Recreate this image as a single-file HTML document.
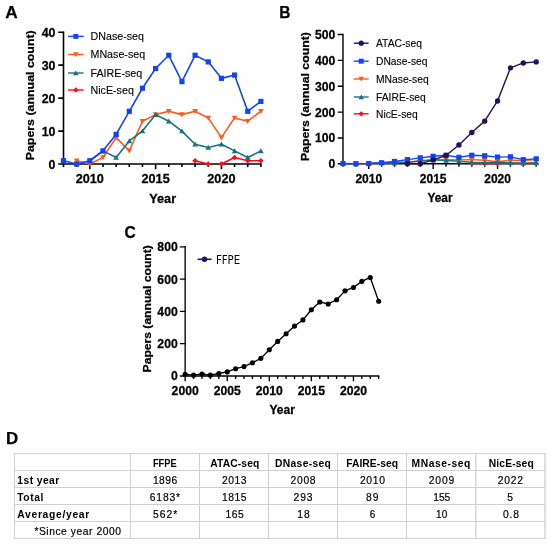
<!DOCTYPE html>
<html><head><meta charset="utf-8"><title>Figure</title>
<style>html,body{margin:0;padding:0;background:#fff}svg{display:block;font-family:"Liberation Sans",sans-serif}</style>
</head><body>
<svg width="550" height="544" viewBox="0 0 550 544">
<rect width="550" height="544" fill="#fff"/>
<path d="M63.5 31.41V164.85" stroke="#000" stroke-width="1.6" fill="none"/>
<path d="M62.7 164.05H261.7" stroke="#000" stroke-width="1.6" fill="none"/>
<path d="M89.82 164.05v5.3M155.62 164.05v5.3M221.42 164.05v5.3M63.50 164.05v3M76.66 164.05v3M102.98 164.05v3M116.14 164.05v3M129.30 164.05v3M142.46 164.05v3M168.78 164.05v3M181.94 164.05v3M195.10 164.05v3M208.26 164.05v3M234.58 164.05v3M247.74 164.05v3M260.90 164.05v3M63.5 164.05h-5.3M63.5 131.09h-5.3M63.5 98.13h-5.3M63.5 65.17h-5.3M63.5 32.21h-5.3" stroke="#000" stroke-width="1.6" fill="none"/>
<text font-size="12.4" font-weight="bold" stroke="#000" stroke-width="0.25" text-anchor="end" transform="translate(55.5 168.6) scale(1 1.04)">0</text>
<text font-size="12.4" font-weight="bold" stroke="#000" stroke-width="0.25" text-anchor="end" transform="translate(55.5 135.64) scale(1 1.04)">10</text>
<text font-size="12.4" font-weight="bold" stroke="#000" stroke-width="0.25" text-anchor="end" transform="translate(55.5 102.68) scale(1 1.04)">20</text>
<text font-size="12.4" font-weight="bold" stroke="#000" stroke-width="0.25" text-anchor="end" transform="translate(55.5 69.72) scale(1 1.04)">30</text>
<text font-size="12.4" font-weight="bold" stroke="#000" stroke-width="0.25" text-anchor="end" transform="translate(55.5 36.76) scale(1 1.04)">40</text>
<text font-size="12.7" font-weight="bold" stroke="#000" stroke-width="0.25" text-anchor="middle" transform="translate(89.82 183.4) scale(1 1.04)">2010</text>
<text font-size="12.7" font-weight="bold" stroke="#000" stroke-width="0.25" text-anchor="middle" transform="translate(155.62 183.4) scale(1 1.04)">2015</text>
<text font-size="12.7" font-weight="bold" stroke="#000" stroke-width="0.25" text-anchor="middle" transform="translate(221.42 183.4) scale(1 1.04)">2020</text>
<text font-size="12.7" font-weight="bold" stroke="#000" stroke-width="0.25" text-anchor="middle" transform="translate(162.7 202.7) scale(1 1.04)">Year</text>
<text x="34.3" y="95.3" font-size="11.5" font-weight="bold" stroke="#000" stroke-width="0.25" text-anchor="middle" textLength="130" lengthAdjust="spacingAndGlyphs" transform="rotate(-90 34.3 95.3)">Papers (annual count)</text>
<path d="M195.10 160.75L208.26 164.05" fill="none" stroke="#ff0a1e" stroke-width="1.6" stroke-linejoin="round"/>
<path d="M192.35 160.75L195.10 158.00L197.85 160.75L195.10 163.50Z" fill="#ff0a1e"/>
<path d="M205.51 164.05L208.26 161.30L211.01 164.05L208.26 166.80Z" fill="#ff0a1e"/>
<path d="M221.42 164.05L234.58 157.46L247.74 160.75L260.90 160.75" fill="none" stroke="#ff0a1e" stroke-width="1.6" stroke-linejoin="round"/>
<path d="M218.67 164.05L221.42 161.30L224.17 164.05L221.42 166.80Z" fill="#ff0a1e"/>
<path d="M231.83 157.46L234.58 154.71L237.33 157.46L234.58 160.21Z" fill="#ff0a1e"/>
<path d="M244.99 160.75L247.74 158.00L250.49 160.75L247.74 163.50Z" fill="#ff0a1e"/>
<path d="M258.15 160.75L260.90 158.00L263.65 160.75L260.90 163.50Z" fill="#ff0a1e"/>
<path d="M76.66 160.75L89.82 164.05L102.98 157.46L116.14 137.68L129.30 150.87L142.46 121.20L155.62 114.61L168.78 111.31L181.94 114.61L195.10 111.31L208.26 117.91L221.42 137.68L234.58 117.91L247.74 121.20L260.90 111.31" fill="none" stroke="#ff5a1a" stroke-width="1.6" stroke-linejoin="round"/>
<path d="M73.81 158.47H79.51L76.66 163.46Z" fill="#ff5a1a"/>
<path d="M86.97 161.77H92.67L89.82 166.76Z" fill="#ff5a1a"/>
<path d="M100.13 155.18H105.83L102.98 160.17Z" fill="#ff5a1a"/>
<path d="M113.29 135.40H118.99L116.14 140.39Z" fill="#ff5a1a"/>
<path d="M126.45 148.59H132.15L129.30 153.57Z" fill="#ff5a1a"/>
<path d="M139.61 118.92H145.31L142.46 123.91Z" fill="#ff5a1a"/>
<path d="M152.77 112.33H158.47L155.62 117.32Z" fill="#ff5a1a"/>
<path d="M165.93 109.03H171.63L168.78 114.02Z" fill="#ff5a1a"/>
<path d="M179.09 112.33H184.79L181.94 117.32Z" fill="#ff5a1a"/>
<path d="M192.25 109.03H197.95L195.10 114.02Z" fill="#ff5a1a"/>
<path d="M205.41 115.63H211.11L208.26 120.61Z" fill="#ff5a1a"/>
<path d="M218.57 135.40H224.27L221.42 140.39Z" fill="#ff5a1a"/>
<path d="M231.73 115.63H237.43L234.58 120.61Z" fill="#ff5a1a"/>
<path d="M244.89 118.92H250.59L247.74 123.91Z" fill="#ff5a1a"/>
<path d="M258.05 109.03H263.75L260.90 114.02Z" fill="#ff5a1a"/>
<path d="M89.82 160.75L102.98 150.87L116.14 157.46L129.30 140.98L142.46 131.09L155.62 114.61L168.78 121.20L181.94 131.09L195.10 144.27L208.26 147.57L221.42 144.27L234.58 150.87L247.74 157.46L260.90 150.87" fill="none" stroke="#167280" stroke-width="1.6" stroke-linejoin="round"/>
<path d="M86.97 163.03H92.67L89.82 158.05Z" fill="#167280"/>
<path d="M100.13 153.15H105.83L102.98 148.16Z" fill="#167280"/>
<path d="M113.29 159.74H118.99L116.14 154.75Z" fill="#167280"/>
<path d="M126.45 143.26H132.15L129.30 138.27Z" fill="#167280"/>
<path d="M139.61 133.37H145.31L142.46 128.38Z" fill="#167280"/>
<path d="M152.77 116.89H158.47L155.62 111.90Z" fill="#167280"/>
<path d="M165.93 123.48H171.63L168.78 118.49Z" fill="#167280"/>
<path d="M179.09 133.37H184.79L181.94 128.38Z" fill="#167280"/>
<path d="M192.25 146.55H197.95L195.10 141.57Z" fill="#167280"/>
<path d="M205.41 149.85H211.11L208.26 144.86Z" fill="#167280"/>
<path d="M218.57 146.55H224.27L221.42 141.57Z" fill="#167280"/>
<path d="M231.73 153.15H237.43L234.58 148.16Z" fill="#167280"/>
<path d="M244.89 159.74H250.59L247.74 154.75Z" fill="#167280"/>
<path d="M258.05 153.15H263.75L260.90 148.16Z" fill="#167280"/>
<path d="M63.50 160.75L76.66 164.05L89.82 160.75L102.98 150.87L116.14 134.39L129.30 111.31L142.46 88.24L155.62 68.47L168.78 55.28L181.94 81.65L195.10 55.28L208.26 61.87L221.42 78.35L234.58 75.06L247.74 111.31L260.90 101.43" fill="none" stroke="#1444f0" stroke-width="1.6" stroke-linejoin="round"/>
<rect x="60.90" y="158.15" width="5.20" height="5.20" fill="#1444f0"/>
<rect x="74.06" y="161.45" width="5.20" height="5.20" fill="#1444f0"/>
<rect x="87.22" y="158.15" width="5.20" height="5.20" fill="#1444f0"/>
<rect x="100.38" y="148.27" width="5.20" height="5.20" fill="#1444f0"/>
<rect x="113.54" y="131.79" width="5.20" height="5.20" fill="#1444f0"/>
<rect x="126.70" y="108.71" width="5.20" height="5.20" fill="#1444f0"/>
<rect x="139.86" y="85.64" width="5.20" height="5.20" fill="#1444f0"/>
<rect x="153.02" y="65.87" width="5.20" height="5.20" fill="#1444f0"/>
<rect x="166.18" y="52.68" width="5.20" height="5.20" fill="#1444f0"/>
<rect x="179.34" y="79.05" width="5.20" height="5.20" fill="#1444f0"/>
<rect x="192.50" y="52.68" width="5.20" height="5.20" fill="#1444f0"/>
<rect x="205.66" y="59.27" width="5.20" height="5.20" fill="#1444f0"/>
<rect x="218.82" y="75.75" width="5.20" height="5.20" fill="#1444f0"/>
<rect x="231.98" y="72.46" width="5.20" height="5.20" fill="#1444f0"/>
<rect x="245.14" y="108.71" width="5.20" height="5.20" fill="#1444f0"/>
<rect x="258.30" y="98.83" width="5.20" height="5.20" fill="#1444f0"/>
<path d="M68 36.4H83.6" stroke="#1444f0" stroke-width="1.4"/>
<rect x="73.30" y="33.90" width="4.99" height="4.99" fill="#1444f0"/>
<text x="90.5" y="40.0" font-size="10.7" stroke="#000" stroke-width="0.12">DNase-seq</text>
<path d="M68 54.5H83.6" stroke="#ff5a1a" stroke-width="1.4"/>
<path d="M73.06 52.31H78.54L75.80 57.10Z" fill="#ff5a1a"/>
<text x="90.5" y="58.1" font-size="10.7" stroke="#000" stroke-width="0.12">MNase-seq</text>
<path d="M68 73.0H83.6" stroke="#167280" stroke-width="1.4"/>
<path d="M73.06 75.19H78.54L75.80 70.40Z" fill="#167280"/>
<text x="90.5" y="76.6" font-size="10.7" stroke="#000" stroke-width="0.12">FAIRE-seq</text>
<path d="M68 90.0H83.6" stroke="#ff0a1e" stroke-width="1.4"/>
<path d="M73.16 90.00L75.80 87.36L78.44 90.00L75.80 92.64Z" fill="#ff0a1e"/>
<text x="90.5" y="93.6" font-size="10.7" stroke="#000" stroke-width="0.12">NicE-seq</text>
<text x="5.3" y="18.2" font-size="17.2" font-weight="bold" stroke="#000" stroke-width="0.25">A</text>
<path d="M343.0 33.8V164.5" stroke="#000" stroke-width="1.4" fill="none"/>
<path d="M342.3 163.8H536.9" stroke="#000" stroke-width="1.4" fill="none"/>
<path d="M368.76 163.8v5.3M433.16 163.8v5.3M497.56 163.8v5.3M343.00 163.8v3M355.88 163.8v3M381.64 163.8v3M394.52 163.8v3M407.40 163.8v3M420.28 163.8v3M446.04 163.8v3M458.92 163.8v3M471.80 163.8v3M484.68 163.8v3M510.44 163.8v3M523.32 163.8v3M536.20 163.8v3M343.0 163.80h-5.3M343.0 137.94h-5.3M343.0 112.08h-5.3M343.0 86.22h-5.3M343.0 60.36h-5.3M343.0 34.50h-5.3" stroke="#000" stroke-width="1.4" fill="none"/>
<text font-size="12.2" font-weight="bold" stroke="#000" stroke-width="0.25" text-anchor="end" transform="translate(335.3 168.3) scale(1 1.04)">0</text>
<text font-size="12.2" font-weight="bold" stroke="#000" stroke-width="0.25" text-anchor="end" transform="translate(335.3 142.44) scale(1 1.04)">100</text>
<text font-size="12.2" font-weight="bold" stroke="#000" stroke-width="0.25" text-anchor="end" transform="translate(335.3 116.58) scale(1 1.04)">200</text>
<text font-size="12.2" font-weight="bold" stroke="#000" stroke-width="0.25" text-anchor="end" transform="translate(335.3 90.72) scale(1 1.04)">300</text>
<text font-size="12.2" font-weight="bold" stroke="#000" stroke-width="0.25" text-anchor="end" transform="translate(335.3 64.86) scale(1 1.04)">400</text>
<text font-size="12.2" font-weight="bold" stroke="#000" stroke-width="0.25" text-anchor="end" transform="translate(335.3 39.0) scale(1 1.04)">500</text>
<text font-size="12.0" font-weight="bold" stroke="#000" stroke-width="0.25" text-anchor="middle" transform="translate(368.76 183.1) scale(1 1.04)">2010</text>
<text font-size="12.0" font-weight="bold" stroke="#000" stroke-width="0.25" text-anchor="middle" transform="translate(433.16 183.1) scale(1 1.04)">2015</text>
<text font-size="12.0" font-weight="bold" stroke="#000" stroke-width="0.25" text-anchor="middle" transform="translate(497.56 183.1) scale(1 1.04)">2020</text>
<text font-size="11.9" font-weight="bold" stroke="#000" stroke-width="0.25" text-anchor="middle" transform="translate(440.0 201.7) scale(1 1.04)">Year</text>
<text x="308.7" y="96.6" font-size="11.5" font-weight="bold" stroke="#000" stroke-width="0.25" text-anchor="middle" textLength="129" lengthAdjust="spacingAndGlyphs" transform="rotate(-90 308.7 96.6)">Papers (annual count)</text>
<path d="M471.80 163.54L484.68 163.80L497.56 163.80L510.44 163.28L523.32 163.54L536.20 163.54" fill="none" stroke="#ff0a1e" stroke-width="1.4" stroke-linejoin="round"/>
<path d="M469.05 163.54L471.80 160.79L474.55 163.54L471.80 166.29Z" fill="#ff0a1e"/>
<path d="M481.93 163.80L484.68 161.05L487.43 163.80L484.68 166.55Z" fill="#ff0a1e"/>
<path d="M494.81 163.80L497.56 161.05L500.31 163.80L497.56 166.55Z" fill="#ff0a1e"/>
<path d="M507.69 163.28L510.44 160.53L513.19 163.28L510.44 166.03Z" fill="#ff0a1e"/>
<path d="M520.57 163.54L523.32 160.79L526.07 163.54L523.32 166.29Z" fill="#ff0a1e"/>
<path d="M533.45 163.54L536.20 160.79L538.95 163.54L536.20 166.29Z" fill="#ff0a1e"/>
<path d="M355.88 163.54L368.76 163.80L381.64 163.28L394.52 161.73L407.40 162.77L420.28 160.44L433.16 159.92L446.04 159.66L458.92 159.92L471.80 159.66L484.68 160.18L497.56 161.73L510.44 160.18L523.32 160.44L536.20 159.66" fill="none" stroke="#ff5a1a" stroke-width="1.4" stroke-linejoin="round"/>
<path d="M353.03 161.26H358.73L355.88 166.25Z" fill="#ff5a1a"/>
<path d="M365.91 161.52H371.61L368.76 166.51Z" fill="#ff5a1a"/>
<path d="M378.79 161.00H384.49L381.64 165.99Z" fill="#ff5a1a"/>
<path d="M391.67 159.45H397.37L394.52 164.44Z" fill="#ff5a1a"/>
<path d="M404.55 160.49H410.25L407.40 165.47Z" fill="#ff5a1a"/>
<path d="M417.43 158.16H423.13L420.28 163.15Z" fill="#ff5a1a"/>
<path d="M430.31 157.64H436.01L433.16 162.63Z" fill="#ff5a1a"/>
<path d="M443.19 157.38H448.89L446.04 162.37Z" fill="#ff5a1a"/>
<path d="M456.07 157.64H461.77L458.92 162.63Z" fill="#ff5a1a"/>
<path d="M468.95 157.38H474.65L471.80 162.37Z" fill="#ff5a1a"/>
<path d="M481.83 157.90H487.53L484.68 162.89Z" fill="#ff5a1a"/>
<path d="M494.71 159.45H500.41L497.56 164.44Z" fill="#ff5a1a"/>
<path d="M507.59 157.90H513.29L510.44 162.89Z" fill="#ff5a1a"/>
<path d="M520.47 158.16H526.17L523.32 163.15Z" fill="#ff5a1a"/>
<path d="M533.35 157.38H539.05L536.20 162.37Z" fill="#ff5a1a"/>
<path d="M368.76 163.54L381.64 162.77L394.52 163.28L407.40 161.99L420.28 161.21L433.16 159.92L446.04 160.44L458.92 161.21L471.80 162.25L484.68 162.51L497.56 162.25L510.44 162.77L523.32 163.28L536.20 162.77" fill="none" stroke="#167280" stroke-width="1.4" stroke-linejoin="round"/>
<path d="M365.91 165.82H371.61L368.76 160.83Z" fill="#167280"/>
<path d="M378.79 165.05H384.49L381.64 160.06Z" fill="#167280"/>
<path d="M391.67 165.56H397.37L394.52 160.58Z" fill="#167280"/>
<path d="M404.55 164.27H410.25L407.40 159.28Z" fill="#167280"/>
<path d="M417.43 163.49H423.13L420.28 158.51Z" fill="#167280"/>
<path d="M430.31 162.20H436.01L433.16 157.21Z" fill="#167280"/>
<path d="M443.19 162.72H448.89L446.04 157.73Z" fill="#167280"/>
<path d="M456.07 163.49H461.77L458.92 158.51Z" fill="#167280"/>
<path d="M468.95 164.53H474.65L471.80 159.54Z" fill="#167280"/>
<path d="M481.83 164.79H487.53L484.68 159.80Z" fill="#167280"/>
<path d="M494.71 164.53H500.41L497.56 159.54Z" fill="#167280"/>
<path d="M507.59 165.05H513.29L510.44 160.06Z" fill="#167280"/>
<path d="M520.47 165.56H526.17L523.32 160.58Z" fill="#167280"/>
<path d="M533.35 165.05H539.05L536.20 160.06Z" fill="#167280"/>
<path d="M343.00 163.54L355.88 163.80L368.76 163.54L381.64 162.77L394.52 161.47L407.40 159.66L420.28 157.85L433.16 156.30L446.04 155.27L458.92 157.34L471.80 155.27L484.68 155.78L497.56 157.08L510.44 156.82L523.32 159.66L536.20 158.89" fill="none" stroke="#1444f0" stroke-width="1.4" stroke-linejoin="round"/>
<rect x="340.40" y="160.94" width="5.20" height="5.20" fill="#1444f0"/>
<rect x="353.28" y="161.20" width="5.20" height="5.20" fill="#1444f0"/>
<rect x="366.16" y="160.94" width="5.20" height="5.20" fill="#1444f0"/>
<rect x="379.04" y="160.17" width="5.20" height="5.20" fill="#1444f0"/>
<rect x="391.92" y="158.87" width="5.20" height="5.20" fill="#1444f0"/>
<rect x="404.80" y="157.06" width="5.20" height="5.20" fill="#1444f0"/>
<rect x="417.68" y="155.25" width="5.20" height="5.20" fill="#1444f0"/>
<rect x="430.56" y="153.70" width="5.20" height="5.20" fill="#1444f0"/>
<rect x="443.44" y="152.67" width="5.20" height="5.20" fill="#1444f0"/>
<rect x="456.32" y="154.74" width="5.20" height="5.20" fill="#1444f0"/>
<rect x="469.20" y="152.67" width="5.20" height="5.20" fill="#1444f0"/>
<rect x="482.08" y="153.18" width="5.20" height="5.20" fill="#1444f0"/>
<rect x="494.96" y="154.48" width="5.20" height="5.20" fill="#1444f0"/>
<rect x="507.84" y="154.22" width="5.20" height="5.20" fill="#1444f0"/>
<rect x="520.72" y="157.06" width="5.20" height="5.20" fill="#1444f0"/>
<rect x="533.60" y="156.29" width="5.20" height="5.20" fill="#1444f0"/>
<path d="M407.40 163.80L420.28 163.80L433.16 159.92L446.04 155.52L458.92 144.92L471.80 132.51L484.68 121.13L497.56 100.96L510.44 67.86L523.32 62.95L536.20 61.91" fill="none" stroke="#25105a" stroke-width="1.4" stroke-linejoin="round"/>
<circle cx="407.40" cy="163.80" r="2.70" fill="#25105a"/>
<circle cx="420.28" cy="163.80" r="2.70" fill="#25105a"/>
<circle cx="433.16" cy="159.92" r="2.70" fill="#25105a"/>
<circle cx="446.04" cy="155.52" r="2.70" fill="#25105a"/>
<circle cx="458.92" cy="144.92" r="2.70" fill="#25105a"/>
<circle cx="471.80" cy="132.51" r="2.70" fill="#25105a"/>
<circle cx="484.68" cy="121.13" r="2.70" fill="#25105a"/>
<circle cx="497.56" cy="100.96" r="2.70" fill="#25105a"/>
<circle cx="510.44" cy="67.86" r="2.70" fill="#25105a"/>
<circle cx="523.32" cy="62.95" r="2.70" fill="#25105a"/>
<circle cx="536.20" cy="61.91" r="2.70" fill="#25105a"/>
<path d="M353.8 43.2H368.6" stroke="#25105a" stroke-width="1.4"/>
<circle cx="361.20" cy="43.20" r="2.59" fill="#25105a"/>
<text x="376" y="46.9" font-size="10.3" stroke="#000" stroke-width="0.12">ATAC-seq</text>
<path d="M353.8 61.2H368.6" stroke="#1444f0" stroke-width="1.4"/>
<rect x="358.70" y="58.70" width="4.99" height="4.99" fill="#1444f0"/>
<text x="376" y="64.9" font-size="10.3" stroke="#000" stroke-width="0.12">DNase-seq</text>
<path d="M353.8 79.0H368.6" stroke="#ff5a1a" stroke-width="1.4"/>
<path d="M358.46 76.81H363.94L361.20 81.60Z" fill="#ff5a1a"/>
<text x="376" y="82.7" font-size="10.3" stroke="#000" stroke-width="0.12">MNase-seq</text>
<path d="M353.8 97.0H368.6" stroke="#167280" stroke-width="1.4"/>
<path d="M358.46 99.19H363.94L361.20 94.40Z" fill="#167280"/>
<text x="376" y="100.7" font-size="10.3" stroke="#000" stroke-width="0.12">FAIRE-seq</text>
<path d="M353.8 113.8H368.6" stroke="#ff0a1e" stroke-width="1.4"/>
<path d="M358.56 113.80L361.20 111.16L363.84 113.80L361.20 116.44Z" fill="#ff0a1e"/>
<text x="376" y="117.5" font-size="10.3" stroke="#000" stroke-width="0.12">NicE-seq</text>
<text x="279.2" y="18.3" font-size="17.2" font-weight="bold" stroke="#000" stroke-width="0.25" textLength="11.2" lengthAdjust="spacingAndGlyphs">B</text>
<path d="M185.15 246.123V376.625" stroke="#000" stroke-width="1.35" fill="none"/>
<path d="M184.475 375.95H379.35" stroke="#000" stroke-width="1.35" fill="none"/>
<path d="M185.15 375.95v5.3M227.22 375.95v5.3M269.29 375.95v5.3M311.36 375.95v5.3M353.43 375.95v5.3M193.56 375.95v3M201.98 375.95v3M210.39 375.95v3M218.81 375.95v3M235.63 375.95v3M244.05 375.95v3M252.46 375.95v3M260.88 375.95v3M277.70 375.95v3M286.12 375.95v3M294.53 375.95v3M302.95 375.95v3M319.77 375.95v3M328.19 375.95v3M336.60 375.95v3M345.02 375.95v3M361.84 375.95v3M370.26 375.95v3M378.67 375.95v3M185.15 375.95h-5.3M185.15 343.66h-5.3M185.15 311.37h-5.3M185.15 279.09h-5.3M185.15 246.80h-5.3" stroke="#000" stroke-width="1.35" fill="none"/>
<text font-size="12.2" font-weight="bold" stroke="#000" stroke-width="0.25" text-anchor="end" transform="translate(177.7 380.4) scale(1 1.04)">0</text>
<text font-size="12.2" font-weight="bold" stroke="#000" stroke-width="0.25" text-anchor="end" transform="translate(177.7 348.11) scale(1 1.04)">200</text>
<text font-size="12.2" font-weight="bold" stroke="#000" stroke-width="0.25" text-anchor="end" transform="translate(177.7 315.824) scale(1 1.04)">400</text>
<text font-size="12.2" font-weight="bold" stroke="#000" stroke-width="0.25" text-anchor="end" transform="translate(177.7 283.536) scale(1 1.04)">600</text>
<text font-size="12.2" font-weight="bold" stroke="#000" stroke-width="0.25" text-anchor="end" transform="translate(177.7 251.248) scale(1 1.04)">800</text>
<text font-size="12.2" font-weight="bold" stroke="#000" stroke-width="0.25" text-anchor="middle" transform="translate(185.15 395.45) scale(1 1.04)">2000</text>
<text font-size="12.2" font-weight="bold" stroke="#000" stroke-width="0.25" text-anchor="middle" transform="translate(227.22 395.45) scale(1 1.04)">2005</text>
<text font-size="12.2" font-weight="bold" stroke="#000" stroke-width="0.25" text-anchor="middle" transform="translate(269.29 395.45) scale(1 1.04)">2010</text>
<text font-size="12.2" font-weight="bold" stroke="#000" stroke-width="0.25" text-anchor="middle" transform="translate(311.36 395.45) scale(1 1.04)">2015</text>
<text font-size="12.2" font-weight="bold" stroke="#000" stroke-width="0.25" text-anchor="middle" transform="translate(353.43 395.45) scale(1 1.04)">2020</text>
<text font-size="12.0" font-weight="bold" stroke="#000" stroke-width="0.25" text-anchor="middle" transform="translate(282.2 414.2) scale(1 1.04)">Year</text>
<text x="151.0" y="308.8" font-size="11.5" font-weight="bold" stroke="#000" stroke-width="0.25" text-anchor="middle" textLength="127.2" lengthAdjust="spacingAndGlyphs" transform="rotate(-90 151.0 308.8)">Papers (annual count)</text>
<path d="M185.15 374.34L193.56 375.14L201.98 374.01L210.39 375.14L218.81 373.53L227.22 371.91L235.63 368.69L244.05 366.59L252.46 362.71L260.88 358.35L269.29 349.80L277.70 341.40L286.12 333.81L294.53 326.07L302.95 319.93L311.36 309.76L319.77 302.01L328.19 303.95L336.60 299.75L345.02 290.87L353.43 287.48L361.84 281.35L370.26 277.47L378.67 301.20" fill="none" stroke="#000" stroke-width="1.35" stroke-linejoin="round"/>
<circle cx="185.15" cy="374.34" r="2.56" fill="#000"/>
<circle cx="193.56" cy="375.14" r="2.56" fill="#000"/>
<circle cx="201.98" cy="374.01" r="2.56" fill="#000"/>
<circle cx="210.39" cy="375.14" r="2.56" fill="#000"/>
<circle cx="218.81" cy="373.53" r="2.56" fill="#000"/>
<circle cx="227.22" cy="371.91" r="2.56" fill="#000"/>
<circle cx="235.63" cy="368.69" r="2.56" fill="#000"/>
<circle cx="244.05" cy="366.59" r="2.56" fill="#000"/>
<circle cx="252.46" cy="362.71" r="2.56" fill="#000"/>
<circle cx="260.88" cy="358.35" r="2.56" fill="#000"/>
<circle cx="269.29" cy="349.80" r="2.56" fill="#000"/>
<circle cx="277.70" cy="341.40" r="2.56" fill="#000"/>
<circle cx="286.12" cy="333.81" r="2.56" fill="#000"/>
<circle cx="294.53" cy="326.07" r="2.56" fill="#000"/>
<circle cx="302.95" cy="319.93" r="2.56" fill="#000"/>
<circle cx="311.36" cy="309.76" r="2.56" fill="#000"/>
<circle cx="319.77" cy="302.01" r="2.56" fill="#000"/>
<circle cx="328.19" cy="303.95" r="2.56" fill="#000"/>
<circle cx="336.60" cy="299.75" r="2.56" fill="#000"/>
<circle cx="345.02" cy="290.87" r="2.56" fill="#000"/>
<circle cx="353.43" cy="287.48" r="2.56" fill="#000"/>
<circle cx="361.84" cy="281.35" r="2.56" fill="#000"/>
<circle cx="370.26" cy="277.47" r="2.56" fill="#000"/>
<circle cx="378.67" cy="301.20" r="2.56" fill="#000"/>
<path d="M197.6 259.3H211.6" stroke="#25105a" stroke-width="1.6"/>
<circle cx="204.50" cy="259.30" r="2.75" fill="#25105a"/>
<text x="215.9" y="263.6" font-size="11.4" textLength="24.2" lengthAdjust="spacingAndGlyphs" font-family="'DejaVu Sans Condensed','DejaVu Sans',sans-serif">FFPE</text>
<text x="124.5" y="238" font-size="17.2" font-weight="bold" stroke="#000" stroke-width="0.25" textLength="11.2" lengthAdjust="spacingAndGlyphs">C</text>
<text x="6.0" y="443.5" font-size="17.2" font-weight="bold" stroke="#000" stroke-width="0.25" textLength="12.2" lengthAdjust="spacingAndGlyphs">D</text>
<path d="M14.5 453.0V539.0M130.5 453.0V539.0M199.5 453.0V539.0M268.5 453.0V539.0M337.5 453.0V539.0M406.5 453.0V539.0M14.0 453.5H545.6M14.0 470.5H545.6M14.0 487.5H545.6M14.0 504.5H545.6M14.0 521.5H545.6M14.0 538.5H545.6" stroke="#d0d0d0" stroke-width="1" fill="none"/>
<path d="M475.8 453.0V539.0M545.0 453.0V539.0" stroke="#d0d0d0" stroke-width="1.3" fill="none"/>
<text x="17.3" y="483.7" font-size="10.3" font-weight="bold" textLength="42" lengthAdjust="spacing">1st year</text>
<text x="17.3" y="501" font-size="10.3" font-weight="bold" textLength="26" lengthAdjust="spacing">Total</text>
<text x="17.3" y="518" font-size="10.3" font-weight="bold" textLength="72" lengthAdjust="spacing">Average/year</text>
<text x="34.4" y="535" font-size="10.3" stroke="#000" stroke-width="0.18" textLength="86.5" lengthAdjust="spacing">*Since year 2000</text>
<text x="164.75" y="466.6" font-size="10.3" font-weight="bold" text-anchor="middle" textLength="23.7" lengthAdjust="spacingAndGlyphs">FFPE</text>
<text x="234.75" y="466.6" font-size="10.3" font-weight="bold" text-anchor="middle" textLength="49.1" lengthAdjust="spacing">ATAC-seq</text>
<text x="302.95" y="466.6" font-size="10.3" font-weight="bold" text-anchor="middle" textLength="55.9" lengthAdjust="spacing">DNase-seq</text>
<text x="372.15" y="466.6" font-size="10.3" font-weight="bold" text-anchor="middle" textLength="51.9" lengthAdjust="spacing">FAIRE-seq</text>
<text x="441.0" y="466.6" font-size="10.3" font-weight="bold" text-anchor="middle" textLength="58.8" lengthAdjust="spacing">MNase-seq</text>
<text x="511.25" y="466.6" font-size="10.3" font-weight="bold" text-anchor="middle" textLength="44.9" lengthAdjust="spacing">NicE-seq</text>
<text x="165.1" y="483.7" font-size="10.3" stroke="#000" stroke-width="0.18" text-anchor="middle" textLength="24.4" lengthAdjust="spacing">1896</text>
<text x="234.3" y="483.7" font-size="10.3" stroke="#000" stroke-width="0.18" text-anchor="middle" textLength="24.4" lengthAdjust="spacing">2013</text>
<text x="303.1" y="483.7" font-size="10.3" stroke="#000" stroke-width="0.18" text-anchor="middle" textLength="25.0" lengthAdjust="spacing">2008</text>
<text x="372.45" y="483.7" font-size="10.3" stroke="#000" stroke-width="0.18" text-anchor="middle" textLength="25.1" lengthAdjust="spacing">2010</text>
<text x="441.5" y="483.7" font-size="10.3" stroke="#000" stroke-width="0.18" text-anchor="middle" textLength="25.6" lengthAdjust="spacing">2009</text>
<text x="510.35" y="483.7" font-size="10.3" stroke="#000" stroke-width="0.18" text-anchor="middle" textLength="25.1" lengthAdjust="spacing">2022</text>
<text x="164.95" y="501" font-size="10.3" stroke="#000" stroke-width="0.18" text-anchor="middle" textLength="30.3" lengthAdjust="spacing">6183*</text>
<text x="234.3" y="501" font-size="10.3" stroke="#000" stroke-width="0.18" text-anchor="middle" textLength="24.4" lengthAdjust="spacing">1815</text>
<text x="303.0" y="501" font-size="10.3" stroke="#000" stroke-width="0.18" text-anchor="middle" textLength="19.0" lengthAdjust="spacing">293</text>
<text x="372.2" y="501" font-size="10.3" stroke="#000" stroke-width="0.18" text-anchor="middle" textLength="12.4" lengthAdjust="spacing">89</text>
<text x="441.75" y="501" font-size="10.3" stroke="#000" stroke-width="0.18" text-anchor="middle" textLength="17.1" lengthAdjust="spacingAndGlyphs">155</text>
<text x="510.2" y="501" font-size="10.3" stroke="#000" stroke-width="0.18" text-anchor="middle" textLength="5.8" lengthAdjust="spacing">5</text>
<text x="165.1" y="518" font-size="10.3" stroke="#000" stroke-width="0.18" text-anchor="middle" textLength="24.4" lengthAdjust="spacing">562*</text>
<text x="234.55" y="518" font-size="10.3" stroke="#000" stroke-width="0.18" text-anchor="middle" textLength="18.3" lengthAdjust="spacing">165</text>
<text x="303.5" y="518" font-size="10.3" stroke="#000" stroke-width="0.18" text-anchor="middle" textLength="12.6" lengthAdjust="spacing">18</text>
<text x="372.45" y="518" font-size="10.3" stroke="#000" stroke-width="0.18" text-anchor="middle" textLength="5.5" lengthAdjust="spacingAndGlyphs">6</text>
<text x="441.65" y="518" font-size="10.3" stroke="#000" stroke-width="0.18" text-anchor="middle" textLength="11.1" lengthAdjust="spacingAndGlyphs">10</text>
<text x="511.0" y="518" font-size="10.3" stroke="#000" stroke-width="0.18" text-anchor="middle" textLength="15.8" lengthAdjust="spacing">0.8</text>
</svg>
</body></html>
